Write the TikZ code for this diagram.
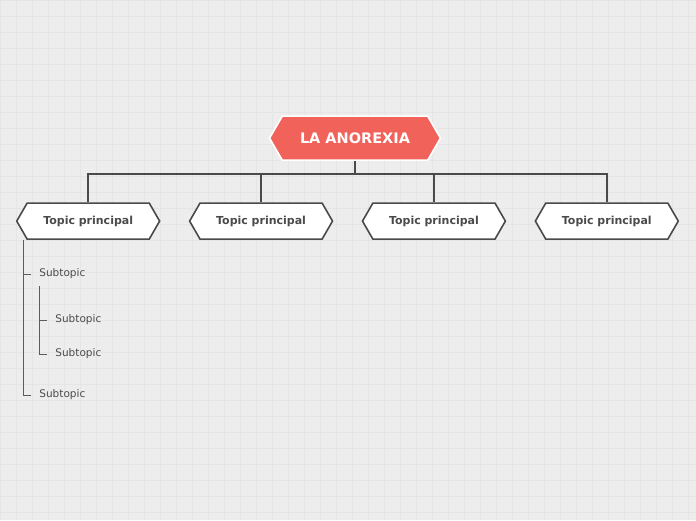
\documentclass[tikz,border=0pt]{standalone}
\usepackage{fontspec}
\setmainfont{DejaVu Sans}
\usetikzlibrary{shapes.symbols}
\definecolor{rootred}{HTML}{F1625A}
\definecolor{linegray}{HTML}{4A4A4A}
\definecolor{bg}{HTML}{EDEDED}
\tikzset{
  hexa/.style={shape=signal, signal to=east and west, signal pointer angle=120, draw=linegray, line width=1.6pt, fill=white, inner xsep=4pt, font=\bfseries\fontsize{11}{12}\selectfont, text=linegray},
  root/.style={hexa, fill=rootred, draw=white, text=white, font=\bfseries\fontsize{14.5}{16}\selectfont},
  sub/.style={anchor=west, inner sep=0pt, font=\fontsize{10.5}{12}\selectfont, text=linegray},
  conn/.style={draw=linegray, line width=1.4pt},
  subline/.style={draw=linegray!90, line width=0.9pt}
}
\begin{document}
\begin{tikzpicture}[x=1pt, y=-1pt]
  \fill[bg] (0,0) rectangle (696,520);
  \draw[white!90!black, line width=0.5pt] (0,0) grid[step=16pt] (696,520);
  \useasboundingbox (0,0) rectangle (696,520);

  \node[root, minimum width=171pt, minimum height=44pt] (la) at (355,138) {LA ANOREXIA};
  \node[hexa, minimum width=143pt, minimum height=36pt] (t1) at (88,221) {Topic principal};
  \node[hexa, minimum width=143pt, minimum height=36pt] (t2) at (261,221) {Topic principal};
  \node[hexa, minimum width=143pt, minimum height=36pt] (t3) at (434,221) {Topic principal};
  \node[hexa, minimum width=143pt, minimum height=36pt] (t4) at (607,221) {Topic principal};

  \coordinate (j) at (355,174);
  \draw[conn] (la.south) -- (j);
  \draw[conn] (t1.north) |- (j) -| (t4.north);
  \draw[conn] (t2.north) -- (t2.north |- j);
  \draw[conn] (t3.north) -- (t3.north |- j);

  \node[sub] (s1) at (39,274) {Subtopic};
  \node[sub] (s11) at (55,320) {Subtopic};
  \node[sub] (s12) at (55,354) {Subtopic};
  \node[sub] (s2) at (39,395) {Subtopic};

  \coordinate (v1) at (23,240);
  \coordinate (v2) at (39,286);
  \draw[subline] (v1) |- ([xshift=-8pt]s2.west);
  \draw[subline] (v1 |- s1.west) -- ([xshift=-8pt]s1.west);
  \draw[subline] (v2) |- ([xshift=-8pt]s12.west);
  \draw[subline] (v2 |- s11.west) -- ([xshift=-8pt]s11.west);
\end{tikzpicture}
\end{document}
